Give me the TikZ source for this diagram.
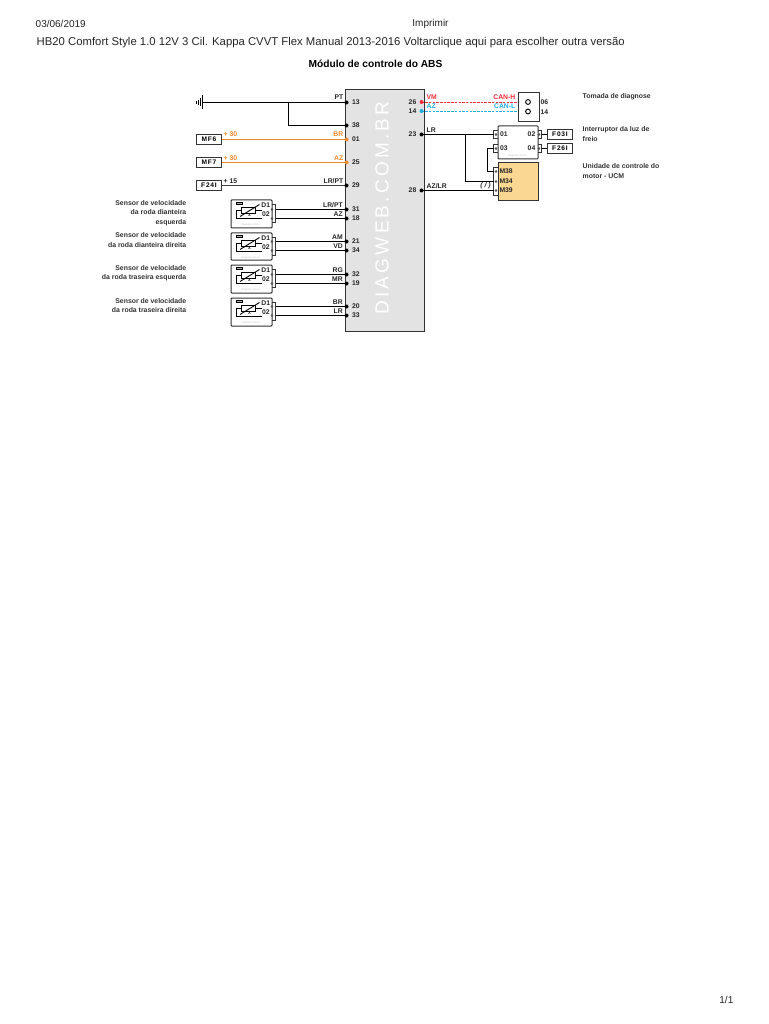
\documentclass[tikz,border=0pt]{standalone}
\usepackage{fontspec}
\setmainfont{Liberation Sans}
\newfontfamily\spacedb[LetterSpace=12]{Liberation Sans}
\newfontfamily\wmfont[LetterSpace=17]{Liberation Sans}
\definecolor{modgray}{HTML}{E3E3E3}
\definecolor{wirered}{HTML}{F0303A}
\definecolor{wireblue}{HTML}{22AEE0}
\definecolor{wireor}{HTML}{F08A2C}
\definecolor{ucmfill}{HTML}{FBD892}
\definecolor{boxedge}{HTML}{333333}
\tikzset{
  pagetxt/.style={font=\fontsize{10}{11}\selectfont,inner sep=0pt,text=black!85},
  lbl/.style={font=\bfseries\fontsize{6.8}{7}\selectfont,inner sep=0pt,text=black!85},
  sencap/.style={font=\bfseries\fontsize{6.9}{9.7}\selectfont,inner sep=0pt,text=black!80,align=right,anchor=north east},
  capl/.style={font=\bfseries\fontsize{6.9}{10}\selectfont,inner sep=0pt,text=black!80,align=left,anchor=north west},
  wire/.style={line width=1pt,black},
  orw/.style={line width=1.25pt,wireor},
  refbox/.style={draw=boxedge,line width=0.9pt,fill=white,minimum width=25pt,minimum height=9.5pt,inner sep=0pt,font=\spacedb\bfseries\fontsize{6.6}{7}\selectfont},
  pindot/.style={circle,fill=black,inner sep=0pt,minimum size=4pt},
  smalldot/.style={circle,draw=boxedge,fill=white,line width=0.4pt,inner sep=0pt,minimum size=2pt},
  devbox/.style={draw=boxedge,line width=1pt,fill=white,rounded corners=0.8pt},
  tabline/.style={draw=boxedge,line width=0.7pt},
  mini/.style={font=\fontsize{2.6}{3}\selectfont,text=black!22,inner sep=0pt},
}
\newcommand{\sensor}[3]{% name, top y, height
  \node[devbox,minimum width=41pt,minimum height=#3 pt,inner sep=0pt,anchor=north west] (#1) at (230,#2) {};
  \begin{scope}[shift={(230,#2)}]
    \draw[line width=0.4pt,fill=black!30] (6,3) rectangle (12,5);
    \draw[line width=0.9pt] (25,11)--(31,11) (11,11)--(5.5,11)--(5.5,18.5)--(31,18.5);
    \draw[line width=0.7pt,fill=white] (10.5,8) rectangle (25,14);
    \draw[line width=0.9pt] (9.5,17)--(29,5);
    \node[lbl,font=\bfseries\fontsize{5}{5}\selectfont] (#1x) at (19,16) {x};
    \node[lbl] (#1a) at (35.3,6) {D1};
    \node[lbl] (#1b) at (35.3,15) {02};
    \node[mini] (#1w) at (20,25.3) {diagweb.com.br};
    \draw[tabline] (41,5) -- (45,5) -- (45,23) -- (41,23);
  \end{scope}
}
\begin{document}
\begin{tikzpicture}[x=1pt,y=-1pt]
\useasboundingbox (0,0) rectangle (768,1024);
\fill[white] (0,0) rectangle (768,1024);
\begin{scope}[shift={(0.5,0.5)}]

% page text
\node[pagetxt,anchor=west] (date) at (35,23) {03/06/2019};
\node[pagetxt] (imp) at (430,23) {Imprimir};
\node[pagetxt,anchor=west,font=\fontsize{11.33}{12}\selectfont] (ttl) at (36,42) {HB20 Comfort Style 1.0 12V 3 Cil. Kappa CVVT Flex Manual 2013-2016 Voltarclique aqui para escolher outra versão};
\node[pagetxt,font=\bfseries\fontsize{10.2}{12}\selectfont,text=black] (head) at (375,63) {Módulo de controle do ABS};
\node[pagetxt,anchor=east] (pg) at (733,999) {1/1};

% module
\node[draw=boxedge,line width=1pt,fill=modgray,minimum width=79pt,minimum height=241pt,inner sep=0pt,anchor=north west] (abs) at (344,89) {};
\node[rotate=90,text=white,font=\wmfont\fontsize{19}{20}\selectfont,inner sep=0pt] (wm) at (381.5,207.5) {DIAGWEB.COM.BR};

% left pins
\foreach \n/\y/\t in {p13/102/13,p38/125/38,p01/139/01,p25/162/25,p29/185/29,p31/209/31,p18/218/18,p21/241/21,p34/250/34,p32/274/32,p19/283/19,p20/306/20,p33/315/33}{
  \coordinate (\n) at (346,\y);
  \node[lbl,anchor=west] (\n t) at (351.5,\y) {\t};
}
% right pins
\foreach \n/\y/\t in {p26/101.5/26,p14/110.5/14,p23/134/23,p28/190/28}{
  \coordinate (\n) at (421,\y);
  \node[lbl,anchor=east] (\n t) at (416,\y) {\t};
}

% ground
\coordinate (gnd) at (202,102);
\coordinate (j1) at (288,102);
\coordinate (j2) at (288,125);
\draw[wire] (gnd) -- (p13);
\draw[wire] (j1) -- (j2) -- (p38);
\draw[line width=1pt] (202,95) -- (202,108.5);
\draw[line width=0.7pt] (200,98) -- (200,106);
\draw[line width=0.6pt] (198,99.5) -- (198,104.5);
\draw[line width=0.5pt] (196,100.5) -- (196,103.5);

% supply boxes
\node[refbox] (mf6) at (208.5,139) {MF6};
\node[refbox] (mf7) at (208.5,162) {MF7};
\node[refbox] (f24) at (208.5,185) {F24I};
\draw[orw] (mf6) -- (p01);
\draw[orw] (mf7) -- (p25);
\draw[line width=1pt,black!75] (f24) -- (p29);
\node[lbl,text=wireor,anchor=west] (v1) at (223,134) {+ 30};
\node[lbl,text=wireor,anchor=west] (v2) at (223,157.5) {+ 30};
\node[lbl,anchor=west] (v3) at (223,180.5) {+ 15};
\node[lbl,anchor=east] (cPT) at (343,97) {PT};
\node[lbl,anchor=east,text=wireor] (cBR) at (343,134) {BR};
\node[lbl,anchor=east,text=wireor] (cAZ) at (343,157.5) {AZ};
\node[lbl,anchor=east] (cLP) at (343,180.5) {LR/PT};

% sensors
\sensor{s1}{199}{28}
\sensor{s2}{232}{27}
\sensor{s3}{264}{28}
\sensor{s4}{297}{28}
\foreach \s/\a/\b in {s1/p31/p18,s2/p21/p34,s3/p32/p19,s4/p20/p33}{
  \draw[wire] (\a) -- (275,0 |- \a) coordinate (\s p);
  \draw[wire] (\b) -- (275,0 |- \b) coordinate (\s q);
  \node[smalldot] (\s c) at ([xshift=-3.5pt]\s p) {};
  \node[smalldot] (\s d) at ([xshift=-3.5pt]\s q) {};
}
\foreach \n/\y/\t in {a/204.5/{LR/PT},b/213.5/AZ,c/236.5/AM,d/246/VD,e/269.5/RG,f/278.5/MR,g/301.5/BR,h/310.5/LR}{
  \node[lbl,anchor=east] (w\n) at (342.5,\y) {\t};
}
% sensor captions
\node[sencap] (c1) at (186,199.5) {Sensor de velocidade\\da roda dianteira\\esquerda};
\node[sencap] (c2) at (186,232) {Sensor de velocidade\\da roda dianteira direita};
\node[sencap] (c3) at (186,264.5) {Sensor de velocidade\\da roda traseira esquerda};
\node[sencap] (c4) at (186,297.5) {Sensor de velocidade\\da roda traseira direita};

% pins dots
\foreach \n in {p13,p38,p29,p31,p18,p21,p34,p32,p19,p20,p33,p23,p28}{
  \node[pindot] (\n d) at (\n) {};
}
\foreach \n in {p01,p25}{ \node[pindot,fill=wireor] (\n d) at (\n) {}; }
\node[pindot,fill=wirered] (p26d) at (p26) {};
\node[pindot,fill=wireblue] (p14d) at (p14) {};

% diagnostic connector
\node[draw=boxedge,line width=1pt,fill=white,minimum width=21pt,minimum height=29pt,inner sep=0pt,anchor=north west] (diag) at (517,92) {};
\node[circle,draw=black,line width=0.9pt,fill=white,minimum size=4.8pt,inner sep=0pt] (h1) at (527.5,101.5) {};
\node[circle,draw=black,line width=0.9pt,fill=white,minimum size=4.8pt,inner sep=0pt] (h2) at (527.5,111) {};
\coordinate (dh) at (517,101.5);
\coordinate (dl) at (517,110.5);
\draw[wirered,line width=0.9pt,dash pattern=on 2.5pt off 1.2pt] (p26) -- (dh);
\draw[wireblue,line width=0.9pt,dash pattern=on 2.5pt off 1.2pt] (p14) -- (dl);
\node[lbl,anchor=west] (n06) at (540,102) {06};
\node[lbl,anchor=west] (n14) at (540,111.5) {14};
\node[lbl,text=wirered,anchor=west] (tVM) at (426,97) {VM};
\node[lbl,text=wireblue,anchor=west] (tAZ) at (426,106) {AZ};
\node[lbl,text=wirered,anchor=east] (tH) at (515,97) {CAN-H};
\node[lbl,text=wireblue,anchor=east] (tL) at (515,106) {CAN-L};

% brake switch
\node[devbox,minimum width=40pt,minimum height=33pt,inner sep=0pt,anchor=north west] (sw) at (497,125) {};
\node[lbl,anchor=west] (s01) at (499.5,134) {01};
\node[lbl,anchor=west] (s03) at (499.5,148) {03};
\node[lbl,anchor=east] (s02) at (535,134) {02};
\node[lbl,anchor=east] (s04) at (535,148) {04};
\node[mini] (sww) at (517,155) {diagweb.com.br};
\node[refbox] (f03) at (559.5,134) {F03I};
\node[refbox] (f26) at (559.5,148) {F26I};
\coordinate (swa) at (493,134);
\coordinate (swb) at (493,148);
\coordinate (swc) at (541,134);
\coordinate (swd) at (541,148);
\draw[wire] (swc) -- (f03);
\draw[wire] (swd) -- (f26);
\draw[tabline] (497,130) -| (493,138) -- (497,138) (497,144) -| (493,152) -- (497,152);
\draw[tabline] (537,130) -| (541,138) -- (537,138) (537,144) -| (541,152) -- (537,152);

% UCM
\node[draw=boxedge,line width=1pt,fill=ucmfill,minimum width=40pt,minimum height=38pt,inner sep=0pt,anchor=north west] (ucm) at (497,162) {};
\node[lbl,anchor=west] (m38) at (498.8,171) {M38};
\node[lbl,anchor=west] (m34) at (498.8,180.5) {M34};
\node[lbl,anchor=west] (m39) at (498.8,190) {M39};
\coordinate (ua) at (493,171);
\coordinate (ub) at (493,181);
\coordinate (uc) at (493,190);
\draw[tabline] (497,167) -| (493,195) -- (497,195);

% wires right
\draw[wire] (p23) -- (swa);
\coordinate (t1) at (465,134);
\draw[wire] (t1) |- (ub);
\draw[wire] (swb) -| (487,160) |- (ua);
\draw[wire] (p28) -- (uc);
\node[lbl,anchor=west] (tLR) at (426,129.5) {LR};
\node[lbl,anchor=west] (tAL) at (426,185.5) {AZ/LR};
\node[lbl,font=\itshape\bfseries\fontsize{6.8}{7}\selectfont] (brk) at (485,185.5) {( / )};

% small pin dots on devices
\foreach \p/\q in {swa/s1a,swb/s1b,ua/s3a,ub/s3b,uc/s3c}{
  \node[smalldot] (d\q) at ([xshift=2.5pt]\p) {};
}
\foreach \p/\q in {swc/s2a,swd/s2b}{
  \node[smalldot] (d\q) at ([xshift=-2.5pt]\p) {};
}

% right captions
\node[capl] (r1) at (582,93) {Tomada de diagnose};
\node[capl] (r2) at (582,125.5) {Interruptor da luz de\\freio};
\node[capl] (r3) at (582,162.5) {Unidade de controle do\\motor - UCM};
\end{scope}
\end{tikzpicture}
\end{document}
